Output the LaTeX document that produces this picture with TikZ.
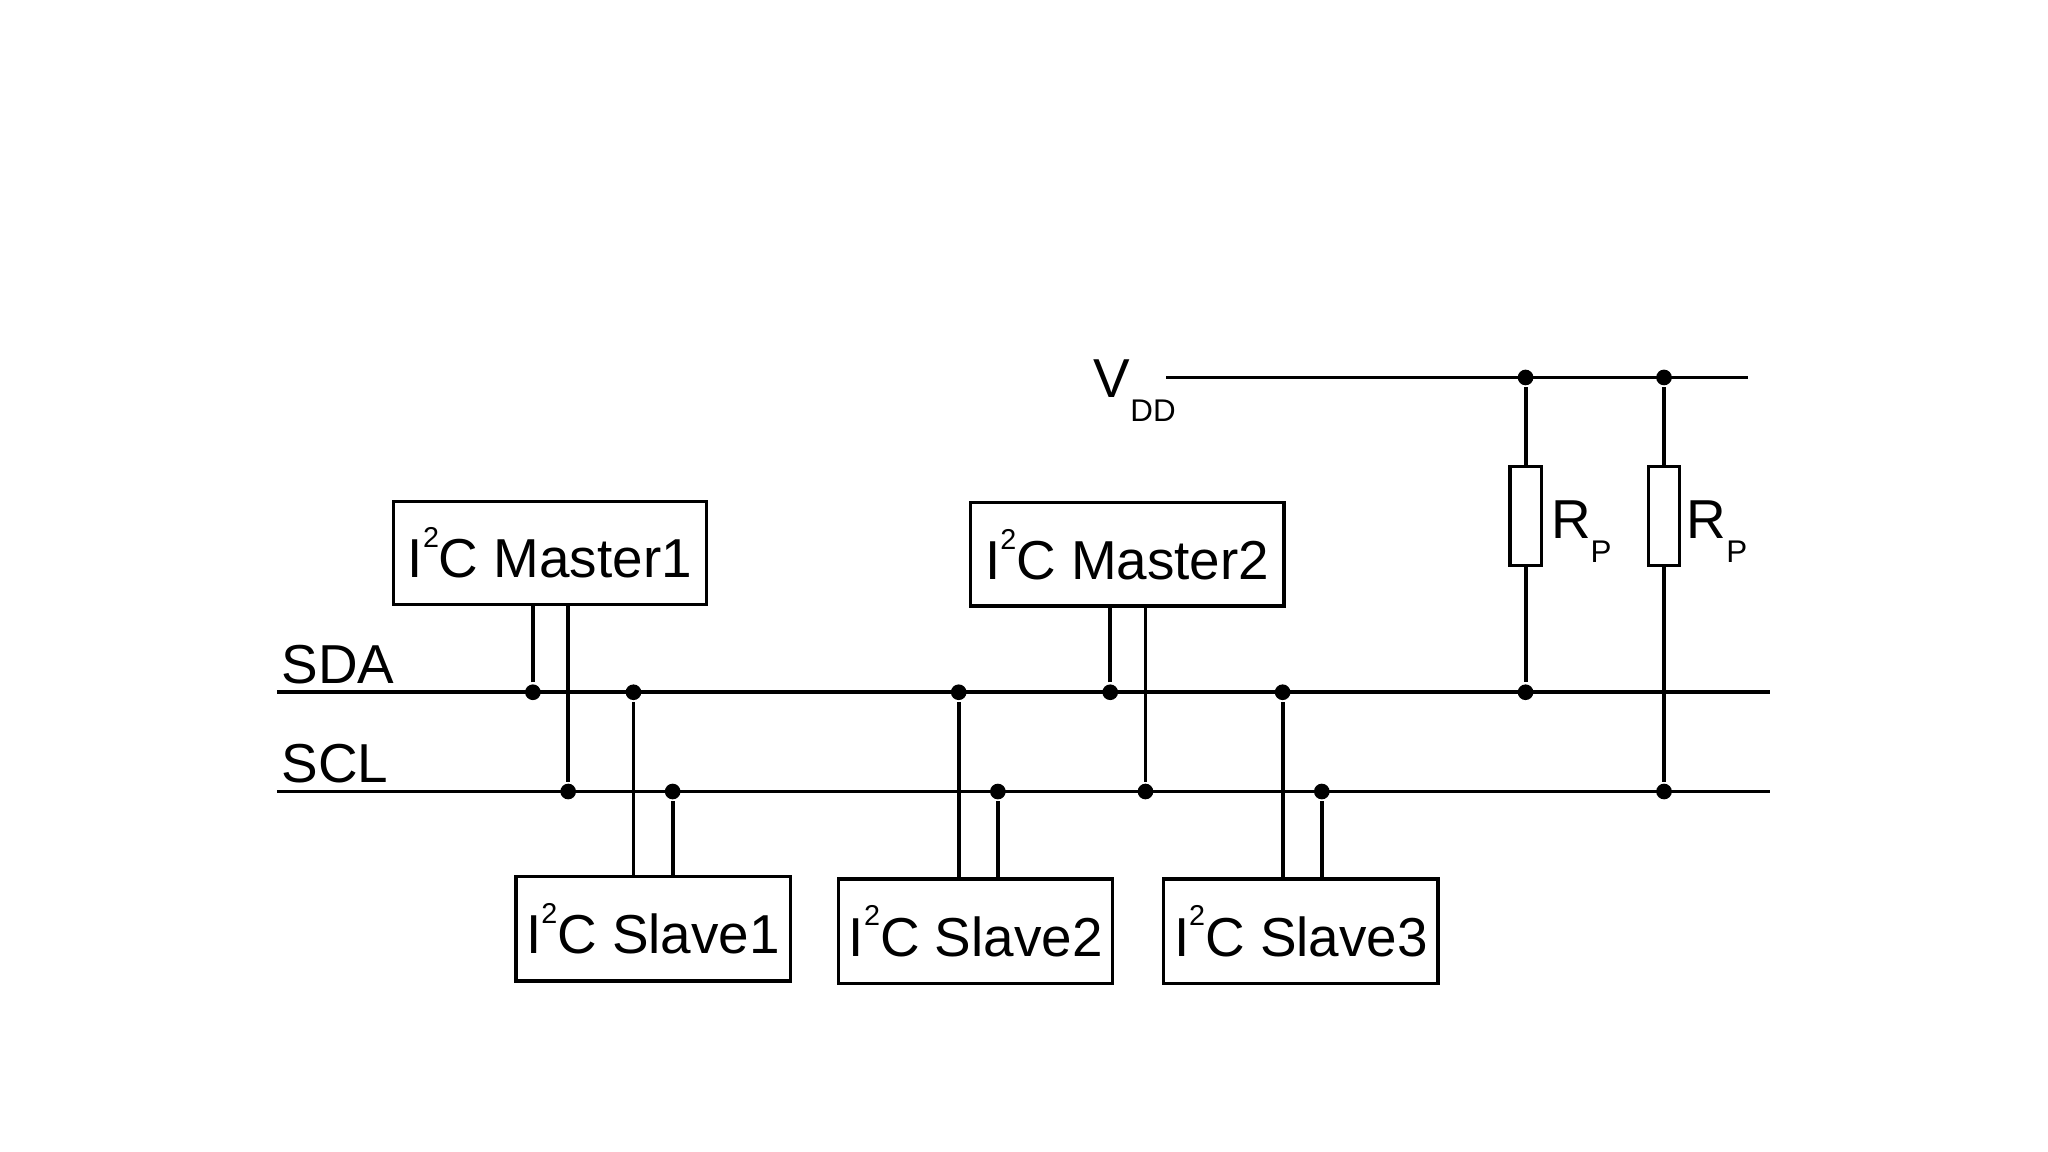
\documentclass[tikz,border=0pt]{standalone}
\usepackage{fontspec}
\setmainfont{Liberation Sans}
\newcommand{\sq}{\raisebox{0.55em}{\fontsize{22}{24}\selectfont 2}}
\begin{document}
\begin{tikzpicture}[x=1pt,y=-1pt,line width=3pt,
  box/.style={draw,line width=2.5pt,minimum width=240pt,minimum height=79pt,inner sep=0pt,font=\fontsize{42}{46}\selectfont},
  sbox/.style={box,minimum width=210pt,minimum height=80pt},
  res/.style={draw,line width=2.5pt,fill=white,minimum width=24pt,minimum height=76pt,inner sep=0pt},
  lbl/.style={font=\fontsize{42}{46}\selectfont,inner sep=0pt},
  dot/.style={circle,fill,inner sep=0pt,minimum size=12pt}]
\useasboundingbox (0,0) rectangle (1568,882);
% buses
\coordinate (vddL) at (893,289); \coordinate (vddR) at (1338,289);
\coordinate (sdaL) at (212,530); \coordinate (sdaR) at (1355,530);
\coordinate (sclL) at (212,606); \coordinate (sclR) at (1355,606);
\draw (vddL) -- (vddR);
\draw (sdaL) -- (sdaR);
\draw (sclL) -- (sclR);
\node[lbl,anchor=base west] (vdd) at (836,304) {V\raisebox{-0.45em}{\fontsize{24}{26}\selectfont DD}};
\node[lbl,anchor=base west] (sda) at (214,523) {SDA};
\node[lbl,anchor=base west] (scl) at (214,599) {SCL};
% boxes
\node[box] (m1) at (421,423.5) {I\sq C Master1};
\node[box] (m2) at (863,424.5) {I\sq C Master2};
\node[sbox] (s1) at (500,711) {I\sq C Slave1};
\node[sbox] (s2) at (747,713) {I\sq C Slave2};
\node[sbox] (s3) at (996,713) {I\sq C Slave3};
% dots
\foreach \n/\x/\y in {d1/408/530,d2/435/606,d3/485/530,d4/515/606,d5/734/530,d6/764/606,d7/850/530,d8/877/606,d9/982/530,d10/1012/606,d11/1168/530,d12/1274/606,v1/1168/289,v2/1274/289}
  \node[dot] (\n) at (\x,\y) {};
% stubs
\draw (d1) -- (d1 |- m1.south); \draw (d2) -- (d2 |- m1.south);
\draw (d7) -- (d7 |- m2.south); \draw (d8) -- (d8 |- m2.south);
\draw (d3) -- (d3 |- s1.north); \draw (d4) -- (d4 |- s1.north);
\draw (d5) -- (d5 |- s2.north); \draw (d6) -- (d6 |- s2.north);
\draw (d9) -- (d9 |- s3.north); \draw (d10) -- (d10 |- s3.north);
% resistors
\draw (v1) -- (d11); \draw (v2) -- (d12);
\node[res] (r1) at (1168,395) {};
\node[res] (r2) at (1274,395) {};
\node[lbl,anchor=base west] (rl1) at (1186,412) {R\raisebox{-0.45em}{\fontsize{24}{26}\selectfont P}};
\node[lbl,anchor=base west] (rl2) at (1290,412) {R\raisebox{-0.45em}{\fontsize{24}{26}\selectfont P}};
\end{tikzpicture}
\end{document}
